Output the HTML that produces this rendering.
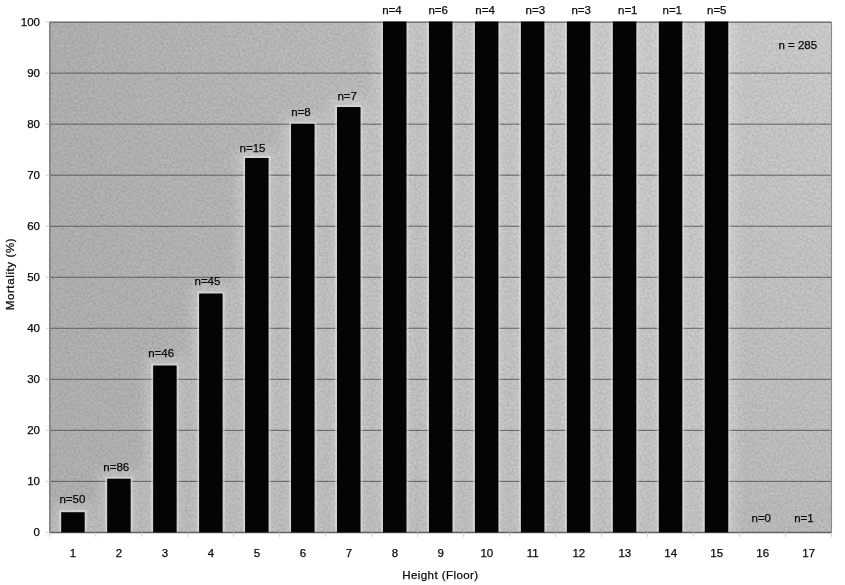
<!DOCTYPE html>
<html lang="en"><head><meta charset="utf-8"><title>Mortality by Height (Floor)</title>
<style>
html,body{margin:0;padding:0;background:#fff;}
body{width:845px;height:585px;overflow:hidden;}
svg{display:block;}
text{font-family:"Liberation Sans", sans-serif;font-size:11.5px;fill:#0a0a0a;stroke:#0a0a0a;stroke-width:0.25px;}
</style></head><body>
<svg width="845" height="585" viewBox="0 0 845 585">
<defs>
<linearGradient id="bg" x1="0" y1="0" x2="1" y2="0">
<stop offset="0" stop-color="#b4b4b4"/>
<stop offset="1" stop-color="#c0c0c0"/>
</linearGradient>
<linearGradient id="lift" x1="0" y1="0" x2="1" y2="0">
<stop offset="0" stop-color="#fff" stop-opacity="0"/>
<stop offset="1" stop-color="#fff" stop-opacity="0.26"/>
</linearGradient>
<linearGradient id="fade" x1="0" y1="0" x2="0" y2="1">
<stop offset="0" stop-color="#fff"/>
<stop offset="1" stop-color="#000"/>
</linearGradient>
<mask id="vmask" maskUnits="userSpaceOnUse" x="49.8" y="22.1" width="781.70" height="510.30"><rect x="49.8" y="22.1" width="781.70" height="510.30" fill="url(#fade)"/></mask>
<filter id="glow" x="-50%" y="-10%" width="200%" height="120%"><feGaussianBlur stdDeviation="5"/></filter>
<filter id="soft" x="-20%" y="-5%" width="140%" height="110%"><feGaussianBlur stdDeviation="0.7"/></filter>
<filter id="grain" x="0" y="0" width="100%" height="100%">
<feTurbulence type="fractalNoise" baseFrequency="0.42" numOctaves="3" seed="7" result="n"/>
<feColorMatrix in="n" type="matrix" values="0 0 0 0 0  0 0 0 0 0  0 0 0 0 0  2 0 0 0 -0.6"/>
</filter>
<clipPath id="plot"><rect x="49.8" y="22.1" width="781.70" height="510.30"/></clipPath>
</defs>
<rect x="0" y="0" width="845" height="585" fill="#ffffff"/>
<rect x="49.8" y="22.1" width="781.70" height="510.30" fill="url(#bg)"/>
<rect x="49.8" y="22.1" width="781.70" height="510.30" fill="url(#lift)" mask="url(#vmask)"/>

<g clip-path="url(#plot)">
<g filter="url(#glow)" opacity="0.22">
<rect x="52.2" y="503.2" width="41.5" height="59.2" fill="#fff"/>
<rect x="98.2" y="469.7" width="41.5" height="92.7" fill="#fff"/>
<rect x="144.1" y="356.5" width="41.5" height="205.9" fill="#fff"/>
<rect x="190.1" y="284.5" width="41.5" height="277.9" fill="#fff"/>
<rect x="236.1" y="149.0" width="41.5" height="413.4" fill="#fff"/>
<rect x="282.1" y="114.8" width="41.5" height="447.6" fill="#fff"/>
<rect x="328.0" y="98.0" width="41.5" height="464.4" fill="#fff"/>
<rect x="374.0" y="12.6" width="41.5" height="549.8" fill="#fff"/>
<rect x="420.0" y="12.6" width="41.5" height="549.8" fill="#fff"/>
<rect x="465.9" y="12.6" width="41.5" height="549.8" fill="#fff"/>
<rect x="511.9" y="12.6" width="41.5" height="549.8" fill="#fff"/>
<rect x="557.9" y="12.6" width="41.5" height="549.8" fill="#fff"/>
<rect x="603.8" y="12.6" width="41.5" height="549.8" fill="#fff"/>
<rect x="649.8" y="12.6" width="41.5" height="549.8" fill="#fff"/>
<rect x="695.8" y="12.6" width="41.5" height="549.8" fill="#fff"/>
</g>
<line x1="49.8" y1="73.13" x2="831.5" y2="73.13" stroke="#585858" stroke-width="0.9"/>
<line x1="49.8" y1="124.16" x2="831.5" y2="124.16" stroke="#585858" stroke-width="0.9"/>
<line x1="49.8" y1="175.19" x2="831.5" y2="175.19" stroke="#585858" stroke-width="0.9"/>
<line x1="49.8" y1="226.22" x2="831.5" y2="226.22" stroke="#585858" stroke-width="0.9"/>
<line x1="49.8" y1="277.25" x2="831.5" y2="277.25" stroke="#585858" stroke-width="0.9"/>
<line x1="49.8" y1="328.28" x2="831.5" y2="328.28" stroke="#585858" stroke-width="0.9"/>
<line x1="49.8" y1="379.31" x2="831.5" y2="379.31" stroke="#585858" stroke-width="0.9"/>
<line x1="49.8" y1="430.34" x2="831.5" y2="430.34" stroke="#585858" stroke-width="0.9"/>
<line x1="49.8" y1="481.37" x2="831.5" y2="481.37" stroke="#585858" stroke-width="0.9"/>
<rect x="49.8" y="22.1" width="781.70" height="510.30" fill="#000" filter="url(#grain)" opacity="0.1"/>
<g filter="url(#soft)" opacity="0.5">
<rect x="59.2" y="510.2" width="27.5" height="22.2" fill="#e6e6e6"/>
<rect x="105.2" y="476.7" width="27.5" height="55.7" fill="#e6e6e6"/>
<rect x="151.1" y="363.5" width="27.5" height="168.9" fill="#e6e6e6"/>
<rect x="197.1" y="291.5" width="27.5" height="240.9" fill="#e6e6e6"/>
<rect x="243.1" y="156.0" width="27.5" height="376.4" fill="#e6e6e6"/>
<rect x="289.1" y="121.8" width="27.5" height="410.6" fill="#e6e6e6"/>
<rect x="335.0" y="105.0" width="27.5" height="427.4" fill="#e6e6e6"/>
<rect x="381.0" y="19.6" width="27.5" height="512.8" fill="#e6e6e6"/>
<rect x="427.0" y="19.6" width="27.5" height="512.8" fill="#e6e6e6"/>
<rect x="472.9" y="19.6" width="27.5" height="512.8" fill="#e6e6e6"/>
<rect x="518.9" y="19.6" width="27.5" height="512.8" fill="#e6e6e6"/>
<rect x="564.9" y="19.6" width="27.5" height="512.8" fill="#e6e6e6"/>
<rect x="610.8" y="19.6" width="27.5" height="512.8" fill="#e6e6e6"/>
<rect x="656.8" y="19.6" width="27.5" height="512.8" fill="#e6e6e6"/>
<rect x="702.8" y="19.6" width="27.5" height="512.8" fill="#e6e6e6"/>
</g>
</g>
<path d="M49.8 532.4V22.1H831.5" fill="none" stroke="#5e5e5e" stroke-width="1.1"/>
<path d="M831.5 22.1V532.4" fill="none" stroke="#8a8a8a" stroke-width="1.1"/>
<path d="M49.3 532.4H832.0" fill="none" stroke="#606060" stroke-width="1.5"/>
<rect x="61.20" y="512.20" width="23.5" height="20.20" fill="#040404"/>
<rect x="107.17" y="478.70" width="23.5" height="53.70" fill="#040404"/>
<rect x="153.14" y="365.50" width="23.5" height="166.90" fill="#040404"/>
<rect x="199.11" y="293.50" width="23.5" height="238.90" fill="#040404"/>
<rect x="245.08" y="158.00" width="23.5" height="374.40" fill="#040404"/>
<rect x="291.05" y="123.80" width="23.5" height="408.60" fill="#040404"/>
<rect x="337.02" y="107.00" width="23.5" height="425.40" fill="#040404"/>
<rect x="382.99" y="21.55" width="23.5" height="510.85" fill="#040404"/>
<rect x="428.96" y="21.55" width="23.5" height="510.85" fill="#040404"/>
<rect x="474.93" y="21.55" width="23.5" height="510.85" fill="#040404"/>
<rect x="520.90" y="21.55" width="23.5" height="510.85" fill="#040404"/>
<rect x="566.87" y="21.55" width="23.5" height="510.85" fill="#040404"/>
<rect x="612.84" y="21.55" width="23.5" height="510.85" fill="#040404"/>
<rect x="658.81" y="21.55" width="23.5" height="510.85" fill="#040404"/>
<rect x="704.78" y="21.55" width="23.5" height="510.85" fill="#040404"/>
<line x1="46.30" y1="22.10" x2="49.8" y2="22.10" stroke="#c8c8c8" stroke-width="1"/>
<line x1="46.30" y1="73.13" x2="49.8" y2="73.13" stroke="#c8c8c8" stroke-width="1"/>
<line x1="46.30" y1="124.16" x2="49.8" y2="124.16" stroke="#c8c8c8" stroke-width="1"/>
<line x1="46.30" y1="175.19" x2="49.8" y2="175.19" stroke="#c8c8c8" stroke-width="1"/>
<line x1="46.30" y1="226.22" x2="49.8" y2="226.22" stroke="#c8c8c8" stroke-width="1"/>
<line x1="46.30" y1="277.25" x2="49.8" y2="277.25" stroke="#c8c8c8" stroke-width="1"/>
<line x1="46.30" y1="328.28" x2="49.8" y2="328.28" stroke="#c8c8c8" stroke-width="1"/>
<line x1="46.30" y1="379.31" x2="49.8" y2="379.31" stroke="#c8c8c8" stroke-width="1"/>
<line x1="46.30" y1="430.34" x2="49.8" y2="430.34" stroke="#c8c8c8" stroke-width="1"/>
<line x1="46.30" y1="481.37" x2="49.8" y2="481.37" stroke="#c8c8c8" stroke-width="1"/>
<line x1="46.30" y1="532.40" x2="49.8" y2="532.40" stroke="#c8c8c8" stroke-width="1"/>
<line x1="49.80" y1="532.4" x2="49.80" y2="536.9" stroke="#cfcfcf" stroke-width="1"/>
<line x1="95.78" y1="532.4" x2="95.78" y2="536.9" stroke="#cfcfcf" stroke-width="1"/>
<line x1="141.76" y1="532.4" x2="141.76" y2="536.9" stroke="#cfcfcf" stroke-width="1"/>
<line x1="187.75" y1="532.4" x2="187.75" y2="536.9" stroke="#cfcfcf" stroke-width="1"/>
<line x1="233.73" y1="532.4" x2="233.73" y2="536.9" stroke="#cfcfcf" stroke-width="1"/>
<line x1="279.71" y1="532.4" x2="279.71" y2="536.9" stroke="#cfcfcf" stroke-width="1"/>
<line x1="325.69" y1="532.4" x2="325.69" y2="536.9" stroke="#cfcfcf" stroke-width="1"/>
<line x1="371.68" y1="532.4" x2="371.68" y2="536.9" stroke="#cfcfcf" stroke-width="1"/>
<line x1="417.66" y1="532.4" x2="417.66" y2="536.9" stroke="#cfcfcf" stroke-width="1"/>
<line x1="463.64" y1="532.4" x2="463.64" y2="536.9" stroke="#cfcfcf" stroke-width="1"/>
<line x1="509.62" y1="532.4" x2="509.62" y2="536.9" stroke="#cfcfcf" stroke-width="1"/>
<line x1="555.61" y1="532.4" x2="555.61" y2="536.9" stroke="#cfcfcf" stroke-width="1"/>
<line x1="601.59" y1="532.4" x2="601.59" y2="536.9" stroke="#cfcfcf" stroke-width="1"/>
<line x1="647.57" y1="532.4" x2="647.57" y2="536.9" stroke="#cfcfcf" stroke-width="1"/>
<line x1="693.55" y1="532.4" x2="693.55" y2="536.9" stroke="#cfcfcf" stroke-width="1"/>
<line x1="739.54" y1="532.4" x2="739.54" y2="536.9" stroke="#cfcfcf" stroke-width="1"/>
<line x1="785.52" y1="532.4" x2="785.52" y2="536.9" stroke="#cfcfcf" stroke-width="1"/>
<line x1="831.50" y1="532.4" x2="831.50" y2="536.9" stroke="#cfcfcf" stroke-width="1"/>
<text x="40" y="25.8" text-anchor="end">100</text>
<text x="40" y="76.8" text-anchor="end">90</text>
<text x="40" y="127.9" text-anchor="end">80</text>
<text x="40" y="178.9" text-anchor="end">70</text>
<text x="40" y="229.9" text-anchor="end">60</text>
<text x="40" y="280.9" text-anchor="end">50</text>
<text x="40" y="332.0" text-anchor="end">40</text>
<text x="40" y="383.0" text-anchor="end">30</text>
<text x="40" y="434.0" text-anchor="end">20</text>
<text x="40" y="485.1" text-anchor="end">10</text>
<text x="40" y="536.1" text-anchor="end">0</text>
<text x="73.0" y="556.9" text-anchor="middle">1</text>
<text x="119.0" y="556.9" text-anchor="middle">2</text>
<text x="165.0" y="556.9" text-anchor="middle">3</text>
<text x="210.9" y="556.9" text-anchor="middle">4</text>
<text x="256.9" y="556.9" text-anchor="middle">5</text>
<text x="302.9" y="556.9" text-anchor="middle">6</text>
<text x="348.9" y="556.9" text-anchor="middle">7</text>
<text x="394.9" y="556.9" text-anchor="middle">8</text>
<text x="440.8" y="556.9" text-anchor="middle">9</text>
<text x="486.8" y="556.9" text-anchor="middle">10</text>
<text x="532.8" y="556.9" text-anchor="middle">11</text>
<text x="578.8" y="556.9" text-anchor="middle">12</text>
<text x="624.8" y="556.9" text-anchor="middle">13</text>
<text x="670.7" y="556.9" text-anchor="middle">14</text>
<text x="716.7" y="556.9" text-anchor="middle">15</text>
<text x="762.7" y="556.9" text-anchor="middle">16</text>
<text x="808.7" y="556.9" text-anchor="middle">17</text>
<text x="59.4" y="502.6" font-size="11.2">n=50</text>
<text x="103.3" y="471.3" font-size="11.2">n=86</text>
<text x="148.2" y="357.4" font-size="11.2">n=46</text>
<text x="194.5" y="285.4" font-size="11.2">n=45</text>
<text x="239.6" y="151.5" font-size="11.2">n=15</text>
<text x="291.2" y="116.1" font-size="11.2">n=8</text>
<text x="337.4" y="100.1" font-size="11.2">n=7</text>
<text x="382.2" y="13.8" font-size="11.2">n=4</text>
<text x="428.4" y="13.8" font-size="11.2">n=6</text>
<text x="475.3" y="13.8" font-size="11.2">n=4</text>
<text x="525.6" y="13.8" font-size="11.2">n=3</text>
<text x="571.4" y="13.8" font-size="11.2">n=3</text>
<text x="618.0" y="13.8" font-size="11.2">n=1</text>
<text x="662.5" y="13.8" font-size="11.2">n=1</text>
<text x="707.0" y="13.8" font-size="11.2">n=5</text>
<text x="751.5" y="521.5" font-size="11.2">n=0</text>
<text x="794.2" y="521.5" font-size="11.2">n=1</text>
<text x="778.4" y="49.4" font-size="11.8">n = 285</text>
<text x="402.2" y="579.4" textLength="76" lengthAdjust="spacing">Height (Floor)</text>
<text transform="translate(14.2,310.3) rotate(-90)" textLength="72" lengthAdjust="spacing">Mortality (%)</text>
</svg>
</body></html>
